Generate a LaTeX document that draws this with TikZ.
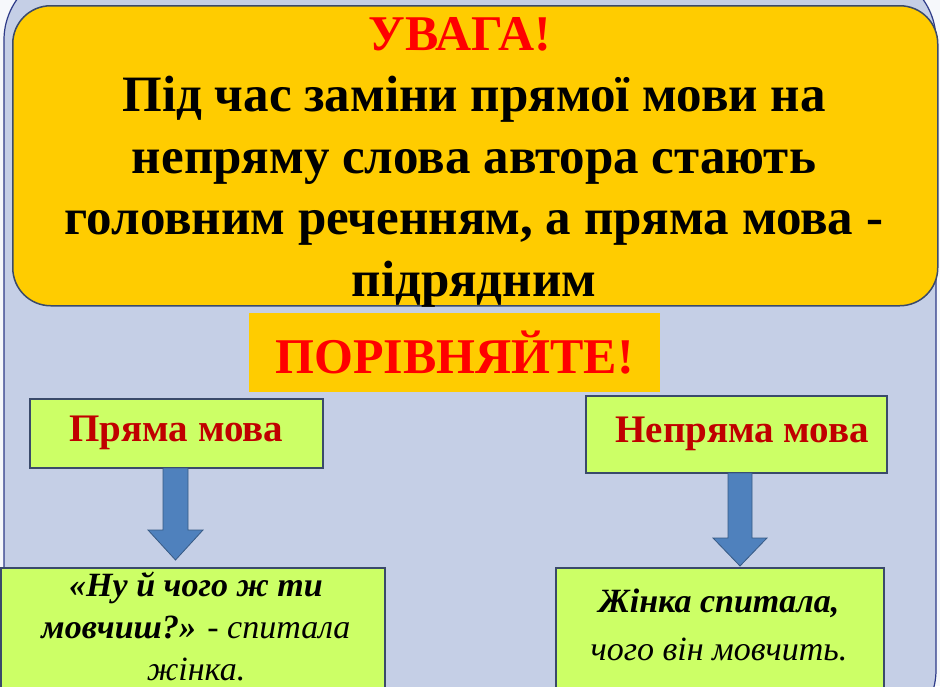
\documentclass[tikz,border=0pt]{standalone}
\usepackage{fontspec}
\setmainfont{Liberation Serif}
\usetikzlibrary{arrows.meta}
\definecolor{bg}{HTML}{C5CFE6}
\definecolor{orng}{HTML}{FFCC00}
\definecolor{lime}{HTML}{CCFF66}
\definecolor{frame}{HTML}{3A4A6A}
\definecolor{dred}{HTML}{C00000}
\definecolor{arr}{HTML}{4F81BD}
\tikzset{
  box/.style={draw=frame, line width=1.5pt, fill=lime, inner sep=0pt},
  bigarrow/.style={fill=arr, draw=arr!70!black, line width=0.8pt},
}
\begin{document}
\begin{tikzpicture}[x=1pt,y=-1pt]
\useasboundingbox (0,0) rectangle (940,686);
\fill[white!85!bg] (0,0) rectangle (940,686);
\begin{scope}
\clip (0,0) rectangle (940,686);
\draw[fill=bg, draw=frame!80!blue, line width=1.2pt, rounded corners=70pt] (4,-30) rectangle (936,740);
\end{scope}
% top box
\node[draw=frame, line width=1.5pt, fill=orng, rounded corners=38pt, minimum width=925pt, minimum height=300pt, anchor=north west] (top) at (12,5) {};
\node[text=red, font=\bfseries\fontsize{50}{56}\selectfont, anchor=base] (uvaga) at (460,50) {УВАГА!};
\node[font=\bfseries\fontsize{51}{61.5}\selectfont, align=center, anchor=base] (main) at (474,296)
 {Під час заміни прямої мови на\\непряму слова автора стають\\головним реченням, а пряма мова -\\підрядним};
% compare
\node[fill=orng, minimum width=411pt, minimum height=79pt, anchor=north west, inner sep=0pt] (cmp) at (249,313) {};
\node[text=red, font=\bfseries\fontsize{50}{56}\selectfont] at (cmp.center) {ПОРІВНЯЙТЕ!};
% headers
\node[box, minimum width=293pt, minimum height=69pt, anchor=north west] (pm) at (29,398) {};
\node[text=dred, font=\bfseries\fontsize{39}{44}\selectfont] at (pm.center) {Пряма мова};
\node[box, minimum width=301pt, minimum height=77pt, anchor=north west] (npm) at (585,395) {};
\node[text=dred, font=\bfseries\fontsize{39}{44}\selectfont] at ([xshift=6pt]npm.center) {Непряма мова};
% bottom boxes
\node[box, minimum width=384pt, minimum height=130pt, anchor=north west] (ex1) at (0,567) {};
\node[font=\itshape\fontsize{34}{42}\selectfont, align=center, anchor=base] at (196,680)
 {\textbf{«Ну й чого ж ти}\\\textbf{мовчиш?»} - спитала\\жінка.};
\node[box, minimum width=328pt, minimum height=130pt, anchor=north west] (ex2) at (555,567) {};
\node[font=\itshape\fontsize{34}{48}\selectfont, align=center, anchor=base] at (719,660)
 {\textbf{Жінка спитала,}\\чого він мовчить.};
% arrows
\draw[bigarrow] (163,468) -- (188,468) -- (188,530) -- (203,530) -- (175.5,560) -- (148,530) -- (163,530) -- cycle;
\draw[bigarrow] (728,473) -- (752,473) -- (752,538) -- (767,538) -- (740,566) -- (713,538) -- (728,538) -- cycle;
\end{tikzpicture}
\end{document}
